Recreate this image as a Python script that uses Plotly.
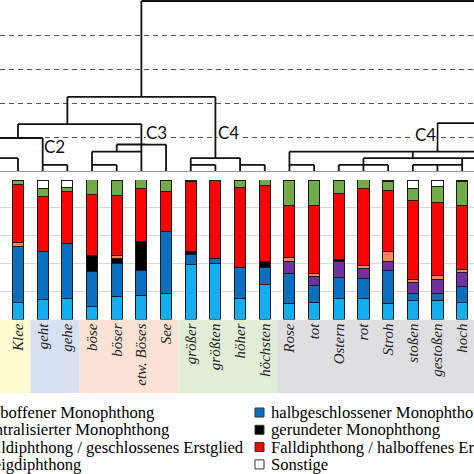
import plotly.graph_objects as go

# ---------------- data ----------------
words = ["Klee", "geht", "gehe", "böse", "böser", "etw. Böses", "See",
         "größer", "größten", "höher", "höchsten", "Rose", "tot", "Ostern",
         "rot", "Stroh", "stoßen", "gestoßen", "hoch"]

cat_names = ["halboffener Monophthong", "halbgeschlossener Monophthong",
             "zentralisierter Monophthong", "gerundeter Monophthong",
             "Falldiphthong / geschlossenes Erstglied",
             "Falldiphthong / halboffenes Erstglied",
             "Steigdiphthong", "Sonstige"]
cat_colors = ["#12AEEF", "#0A6FBF", "#7030A0", "#000000",
              "#F4894F", "#FF0000", "#72AC48", "#FFFFFF"]

# percentages per word (same order as words)
halboffen      = [12.5, 14.2, 15.3, 9.6, 16.5, 17.3, 18.5, 39.4, 40.0, 15.3, 25.0, 11.3, 12.4, 14.9, 14.9, 11.7, 13.7, 13.7, 12.4]
halbgeschl     = [40.0, 34.7, 39.1, 24.5, 23.5, 18.0, 44.3, 7.2, 4.0, 21.9, 12.0, 22.0, 12.0, 15.5, 14.8, 23.5, 4.8, 4.8, 11.3]
zentral        = [0, 0, 0, 0, 0, 0, 0, 0, 0, 0, 0, 8.6, 6.5, 11.5, 6.8, 6.7, 8.3, 10.1, 10.3]
gerundet       = [0, 0, 0, 12.0, 4.0, 20.4, 0, 2.4, 0, 0, 4.3, 0, 0, 0.8, 0, 0, 0, 0, 0]
fall_geschl    = [3.0, 0, 0, 0, 2.0, 0, 0, 0, 0, 0, 0, 2.4, 2.4, 0, 2.4, 7.0, 1.7, 2.9, 1.7]
fall_halboffen = [41.5, 39.6, 37.1, 43.2, 43.2, 37.9, 28.8, 50.0, 56.0, 57.3, 54.5, 37.6, 48.7, 47.5, 54.7, 43.4, 57.0, 52.5, 46.3]
steig          = [3.0, 5.5, 3.2, 10.8, 10.8, 6.5, 8.4, 1.0, 0, 5.5, 4.3, 18.0, 18.0, 9.6, 6.5, 6.5, 8.4, 11.2, 16.8]
sonstige       = [0, 6.0, 5.3, 0, 0, 0, 0, 0, 0, 0, 0, 0, 0, 0, 0, 1.2, 6.0, 4.8, 1.2]
series = [halboffen, halbgeschl, zentral, gerundet, fall_geschl, fall_halboffen, steig, sonstige]

# word groups (index ranges) with background colours
group_start = [0, 1, 3, 7, 11]
group_end = [0, 2, 6, 10, 18]
group_colors = ["#FDFBCF", "#D8E1F1", "#FAE3D5", "#E1EED8", "#DFDFE2"]

# dendrogram (x in word-index units, y = linkage distance)
dendro_h = [(0.38, -1.5, 0), (0.97, -1.5, 1), (0.18, 1, 2), (1.38, 0, 5),
            (0.78, 4, 6), (0.57, 3, 5), (0.18, 3, 4), (2.18, 2, 8),
            (0.38, 7, 9), (0.18, 7, 8), (0.18, 9, 10), (5.0, 5, 19.5),
            (0.18, 11, 12), (0.18, 13, 15), (0.18, 16, 18), (0.57, 11, 19.5),
            (0.38, 14, 19.5), (1.41, 17, 19.5)]
dendro_v = [(0, 0.97, 1.38), (0, 0, 0.38), (1, 0, 0.97), (2, 0, 0.18),
            (2, 1.38, 2.18), (3, 0, 0.57), (4, 0, 0.18), (4, 0.57, 0.78),
            (5, 0, 1.38), (6, 0, 0.78), (5, 2.18, 5.0), (7, 0, 0.38),
            (8, 0, 0.18), (8, 0.38, 2.18), (9, 0, 0.38), (10, 0, 0.18),
            (11, 0, 0.57), (12, 0, 0.18), (13, 0, 0.18), (14, 0, 0.38),
            (15, 0, 0.18), (16, 0, 0.18), (16, 0.38, 0.57), (17, 0, 0.18),
            (17, 0.57, 1.41), (18, 0, 0.38)]
cluster_labels = [("C2", 1.46, 0.735, False), ("C3", 5.63, 1.147, True),
                  ("C4", 8.55, 1.147, True), ("C4", 16.5, 1.06, True)]

# ---------------- figure ----------------
W = H = 474
XR = [-0.73, 18.48]
SERIF = "Liberation Serif, Times New Roman, DejaVu Serif, serif"

fig = go.Figure()

for name, vals, col in zip(cat_names, series, cat_colors):
    fig.add_trace(go.Bar(
        x=words, y=[v if v else None for v in vals], name=name,
        marker=dict(color=col, line=dict(color="#1a1a1a", width=1)),
        width=0.45, xaxis="x", yaxis="y", showlegend=False))

dx, dy = [], []
for y, x0, x1 in dendro_h:
    dx += [x0, x1, None]
    dy += [y, y, None]
for x, y0, y1 in dendro_v:
    dx += [x, x, None]
    dy += [y0, y1, None]
fig.add_trace(go.Scatter(x=dx, y=dy, mode="lines", xaxis="x2", yaxis="y2",
                         line=dict(color="#111111", width=1.8),
                         showlegend=False, hoverinfo="skip"))

def py(p):
    return 1 - p / H

def px(p):
    return p / W

shapes = []
for s, e, c in zip(group_start, group_end, group_colors):
    x0 = s - 0.5 if s > 0 else -1.5
    x1 = e + 0.5 if e < len(words) - 1 else len(words) + 0.5
    shapes.append(dict(type="rect", xref="x", yref="paper", x0=x0, x1=x1,
                       y0=py(393), y1=py(320), fillcolor=c, line=dict(width=0),
                       layer="below"))

annotations = []
for lab, x, y, bg in cluster_labels:
    annotations.append(dict(text=lab, x=x, y=y, xref="x2", yref="y2",
                            showarrow=False, xanchor="center", yanchor="middle",
                            font=dict(family="Lato", size=17, color="#111"),
                            bgcolor="white" if bg else None, borderpad=0))

# legend (two columns, row-major)
for i, (name, col) in enumerate(zip(cat_names, cat_colors)):
    c, r = i % 2, i // 2
    mx = -32 + c * 291.5
    my = 412.5 + r * 17.3
    shapes.append(dict(type="rect", xref="paper", yref="paper",
                       x0=px(mx - 4.5), x1=px(mx + 4.5), y0=py(my + 4.5), y1=py(my - 4.5),
                       fillcolor=col, line=dict(color="#333", width=1)))
    annotations.append(dict(text=name, x=px(mx + 10.5), y=py(my), xref="paper", yref="paper",
                            showarrow=False, xanchor="left", yanchor="middle", borderpad=0,
                            font=dict(family=SERIF, size=16.6, color="#000")))

fig.update_layout(
    width=W, height=H, margin=dict(l=0, r=0, t=0, b=0),
    paper_bgcolor="white", plot_bgcolor="rgba(0,0,0,0)",
    barmode="stack", bargap=0.55,
    xaxis=dict(domain=[0, 1], range=XR, type="category", anchor="y",
               tickangle=-90, ticks="", showline=False, showgrid=False,
               tickmode="array", tickvals=words,
               ticktext=["<i>" + w + "</i>" for w in words],
               tickfont=dict(family=SERIF, size=15, color="#222")),
    yaxis=dict(domain=[py(319.5), py(180)], range=[0, 100], anchor="x",
               tickvals=[20, 40, 60, 80], showticklabels=False, showgrid=True,
               gridcolor="#D9D9D9", gridwidth=1, zeroline=False, showline=False),
    xaxis2=dict(domain=[0, 1], range=XR, anchor="y2", visible=False),
    yaxis2=dict(domain=[py(171), 1], range=[0, 171 / 34], anchor="x2",
                tickvals=[1, 2, 3, 4, 5], showticklabels=False, showgrid=True,
                gridcolor="#555", gridwidth=1.3, griddash="5px,4px",
                zeroline=True, zerolinecolor="#999", zerolinewidth=1, showline=False),
    shapes=shapes, annotations=annotations,
)

fig.write_html("out.html")
